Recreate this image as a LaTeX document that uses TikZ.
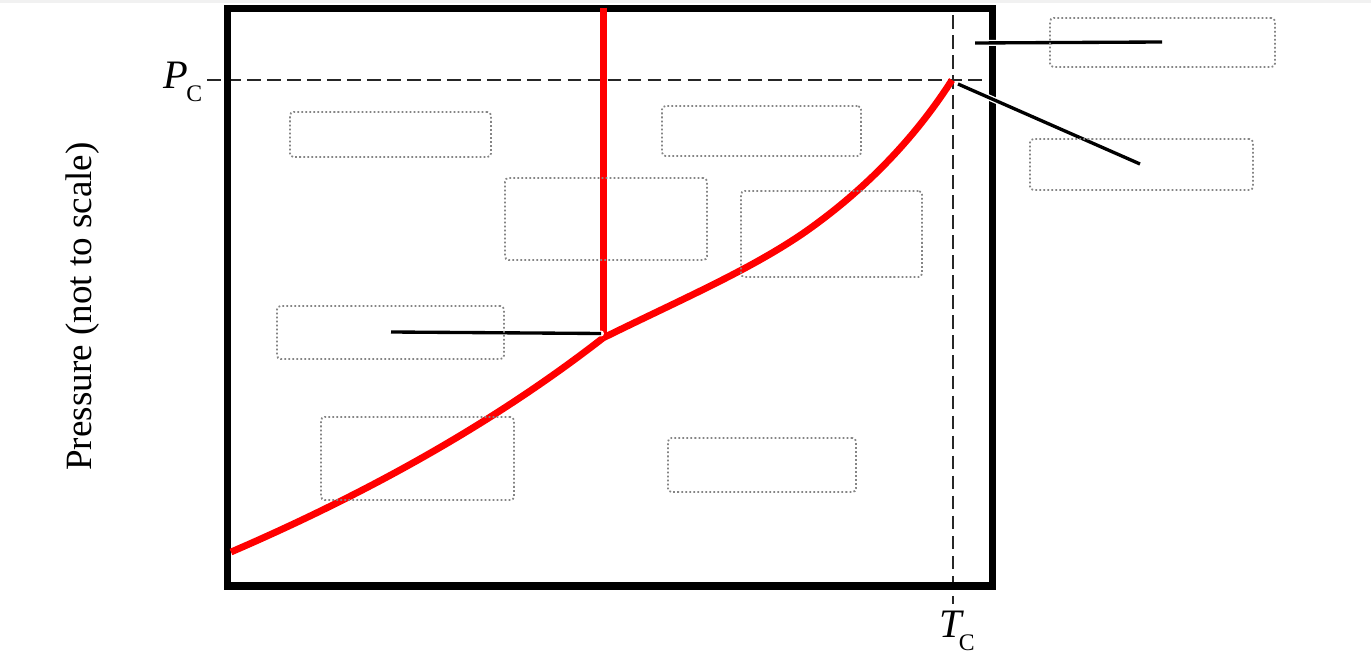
\documentclass[tikz,border=0pt]{standalone}
\usepackage{fontspec}
\usepackage{xcolor}
\usetikzlibrary{positioning,calc}
\setmainfont{Liberation Serif}
\definecolor{boxgray}{HTML}{858585}
\definecolor{curvered}{HTML}{FF0000}
\definecolor{topbar}{HTML}{F1F1F1}
\tikzset{
  frameline/.style={draw=black, line width=4.2pt, line join=miter},
  phaseline/.style={draw=curvered, line width=3.9pt, line join=round},
  guideline/.style={draw=black!85, line width=1.1pt, dash pattern=on 7.8pt off 3.6pt},
  leader/.style={draw=black, line width=1.9pt, preaction={draw=white, line width=3.4pt, line cap=round}},
  answerbox/.style={draw=boxgray, line width=1pt, dash pattern=on 1pt off 1.28pt, rounded corners=2pt, inner sep=0pt, outer sep=0pt},
  axisname/.style={font=\fontsize{21.1}{24}\selectfont, inner sep=0pt},
  critname/.style={font=\fontsize{23}{26}\selectfont, inner sep=0pt}
}
\newcommand{\critsub}[2]{\textit{#1}\kern#2\raisebox{-7.3pt}{\fontsize{13.5}{16}\selectfont C}}

\begin{document}
\begin{tikzpicture}[x=0.02cm, y=-0.02cm]
  \useasboundingbox (0,0) rectangle (1371,651);
  \fill[topbar] (0,0) rectangle (1371,3);

  % Points on the curves
  \coordinate (triple) at (603,338);
  \coordinate (crit) at (952,80);

  % Critical guides
  \coordinate (pstart) at (207,80);
  \coordinate (pend) at (985,80);
  \coordinate (tstart) at (953,15);
  \coordinate (tend) at (953,604);
  \draw[guideline] (pstart) -- (pend);
  \draw[guideline] (tstart) -- (tend);

  % Plot frame
  \draw[frameline] (227.5,8.5) rectangle (992.5,586);

  % Phase boundaries
  \draw[phaseline] (231,552) .. controls (370,492) and (495,422) .. (triple);
  \draw[phaseline] (603.5,8) -- (603.5,338);
  \draw[phaseline] (triple) .. controls (680,300) and (750,270) .. (805,232)
    .. controls (865,190) and (915,138) .. (crit);

  % Leaders
  \coordinate (tripleend) at (391,332);
  \coordinate (tripletip) at (601,333.5);
  \coordinate (superstart) at (975,43);
  \coordinate (superend) at (1162,42);
  \coordinate (critstart) at (958,84);
  \coordinate (critend) at (1140,164);
  \draw[leader] (tripleend) -- (tripletip);
  \draw[leader] (superstart) -- (superend);
  \draw[leader] (critstart) -- (critend);

  % Empty answer boxes
  \node[answerbox, minimum width=4.02cm, minimum height=0.9cm] (solida) at (390.5,134.5) {};
  \node[answerbox, minimum width=3.98cm, minimum height=1cm] (liquida) at (761.5,131) {};
  \node[answerbox, minimum width=4.04cm, minimum height=1.64cm] (solidb) at (606,219) {};
  \node[answerbox, minimum width=3.62cm, minimum height=1.72cm] (liquidb) at (831.5,234) {};
  \node[answerbox, minimum width=4.54cm, minimum height=1.06cm] (triplebox) at (390.5,332.5) {};
  \node[answerbox, minimum width=3.86cm, minimum height=1.66cm] (solidc) at (417.5,458.5) {};
  \node[answerbox, minimum width=3.76cm, minimum height=1.08cm] (gasbox) at (762,465) {};
  \node[answerbox, minimum width=4.5cm, minimum height=0.98cm] (superbox) at (1162.5,42.5) {};
  \node[answerbox, minimum width=4.46cm, minimum height=1.02cm] (critbox) at (1141.5,164.5) {};

  % Labels
  \node[axisname, rotate=90] (ylabel) at (83,306.5) {Pressure (not to scale)};
  \node[critname, anchor=base west] (pc) at (163,89) {\critsub{P}{-1pt}};
  \node[critname, anchor=base west] (tc) at (939,637.5) {\critsub{T}{-3pt}};
\end{tikzpicture}
\end{document}
